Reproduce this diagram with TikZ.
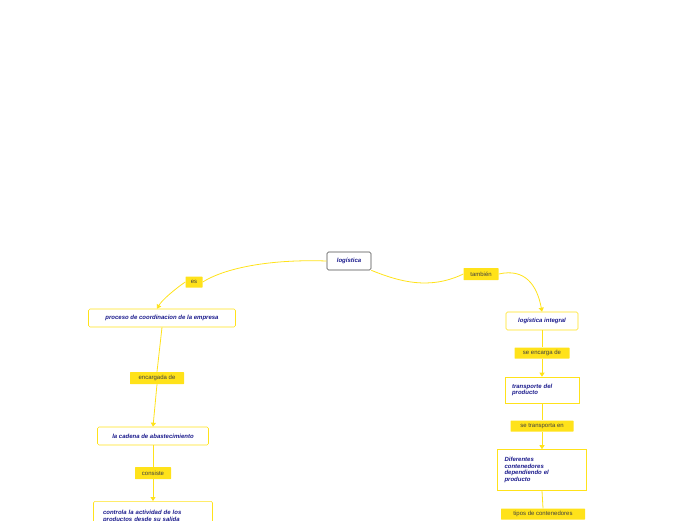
\documentclass[tikz,border=0pt]{standalone}
\usepackage{fontspec}
\setmainfont{Liberation Sans}
\usetikzlibrary{arrows.meta}
\definecolor{yel}{HTML}{FFE21A}
\definecolor{txt}{HTML}{1A1A8C}
\begin{document}
\begin{tikzpicture}[x=1pt,y=-1pt,
 concept/.style={draw=yel,fill=white,rounded corners=1.5pt,font=\fontsize{6}{6.5}\selectfont\bfseries\itshape,text=txt,inner sep=0pt,line width=0.6pt},
 lbl/.style={fill=yel,font=\fontsize{6}{7}\selectfont,text=black!75,inner sep=0pt,rounded corners=0.5pt},
 conn/.style={draw=yel,line width=0.8pt},
 arr/.style={conn,-{Triangle[length=4pt,width=5pt]}}]
\useasboundingbox (0,0) rectangle (696,520);
\node[concept,draw=black!70,minimum width=44pt,minimum height=18pt] (log) at (349,261) {logística};
\node[lbl,minimum width=17pt,minimum height=11pt] (es) at (194,282) {es};
\node[concept,minimum width=147pt,minimum height=18pt] (proc) at (162,318) {proceso de coordinacion de la empresa};
\node[lbl,minimum width=54pt,minimum height=12pt] (enc) at (157,378) {encargada de};
\node[concept,minimum width=111pt,minimum height=18pt] (cad) at (153,436) {la cadena de abastecimiento};
\node[lbl,minimum width=36pt,minimum height=12pt] (cons) at (153,473) {consiste};
\node[concept,minimum width=119pt,minimum height=30pt,align=left,text width=100pt,anchor=north] (ctrl) at (153,501) {\rule{0pt}{5pt}controla la actividad de los\\productos desde su salida};
\node[lbl,minimum width=35pt,minimum height=12pt] (tamb) at (481,274) {también};
\node[concept,minimum width=72pt,minimum height=18pt] (lint) at (542,321) {logística integral};
\node[lbl,minimum width=55pt,minimum height=11pt] (senc) at (542,353) {se encarga de};
\node[concept,rounded corners=0pt,minimum width=74pt,minimum height=26pt,align=left,text width=60pt] (trans) at (542,390) {transporte del\\producto};
\node[lbl,minimum width=63pt,minimum height=11pt] (stra) at (542,426) {se transporta en};
\node[concept,rounded corners=0pt,minimum width=89pt,minimum height=41pt,align=left,text width=75pt] (dif) at (542,470) {Diferentes\\contenedores\\dependiendo el\\producto};
\node[lbl,minimum width=84pt,minimum height=11pt] (tipos) at (543,514) {tipos de contenedores};
\draw[conn] (log.west) .. controls (270,259) and (225,268) .. (es.east);
\draw[arr] (es.west) .. controls (175,289) and (162,300) .. (proc.north-|157,0);
\draw[conn] (proc.south) -- (enc.north);
\draw[arr] (enc.south) -- (cad.north);
\draw[conn] (cad.south) -- (cons.north);
\draw[arr] (cons.south) -- (ctrl.north);
\draw[conn] (log.south east) .. controls (400,282) and (430,290) .. (tamb.west);
\draw[arr] (tamb.east) .. controls (525,268) and (537,285) .. (lint.north);
\draw[conn] (lint.south) -- (senc.north);
\draw[arr] (senc.south) -- (trans.north);
\draw[conn] (trans.south) -- (stra.north);
\draw[arr] (stra.south) -- (dif.north);
\draw[conn] (dif.south) -- (tipos.north);
\end{tikzpicture}
\end{document}
